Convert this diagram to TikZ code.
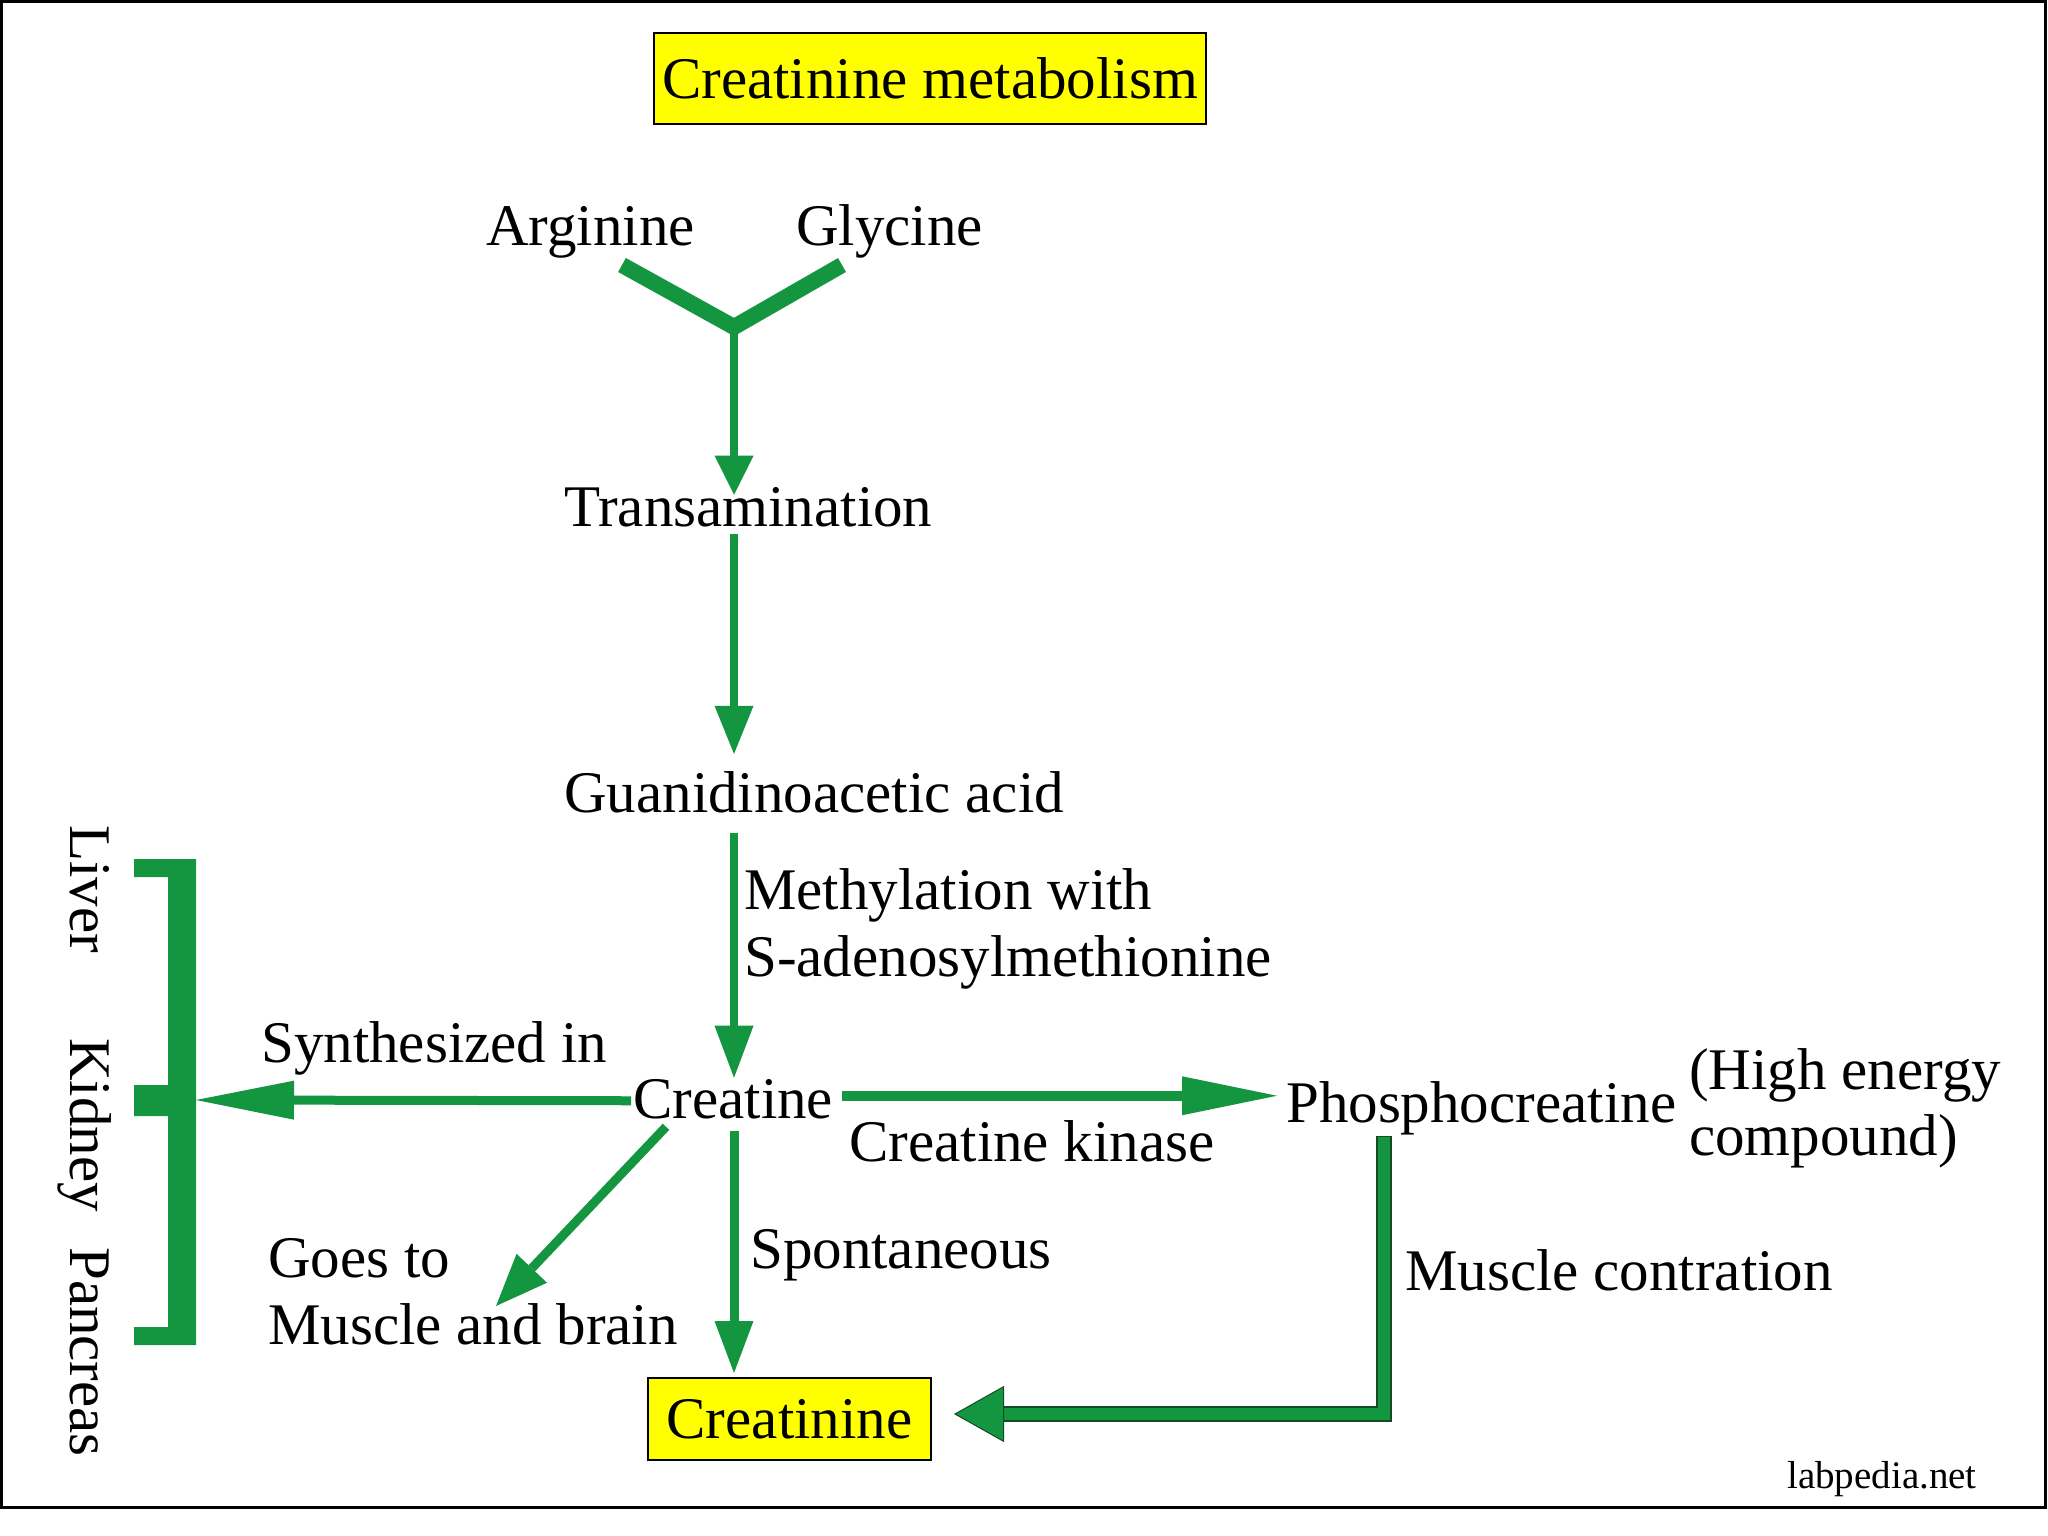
\documentclass[tikz,border=0pt]{standalone}
\usepackage{fontspec}
\setmainfont{Liberation Serif}
\usetikzlibrary{arrows.meta,calc}
\definecolor{gr}{RGB}{20,150,65}
\definecolor{dgr}{RGB}{20,75,35}
\definecolor{yel}{RGB}{255,255,0}
\begin{document}
\begin{tikzpicture}[x=1pt,y=-1pt,
  txt/.style={inner sep=0pt, anchor=base west, font=\fontsize{59pt}{67pt}\selectfont},
  boxnode/.style={draw=black, line width=2pt, fill=yel, inner sep=0pt, font=\fontsize{59pt}{67pt}\selectfont},
  flow/.style={draw=gr, line width=#1},
  tipA/.style={-{Triangle[length=#1,width=39pt,line width=0pt]}}
]
\useasboundingbox (0,0) rectangle (2048,1536);
\fill[white] (0,0) rectangle (2048,1536);
\draw[line width=3pt] (1.5,1.5) rectangle (2045,1507);

% nodes
\node[boxnode, minimum width=552pt, minimum height=91pt] (title) at (930,78.5) {Creatinine metabolism};
\node[txt] (arg) at (486,245) {Arginine};
\node[txt] (gly) at (796,245) {Glycine};
\node[txt] (trans) at (564,526) {Transamination};
\node[txt] (gaa) at (564,812) {Guanidinoacetic acid};
\node[txt] (meth1) at (744,909) {Methylation with};
\node[txt] (meth2) at (744,976) {S-adenosylmethionine};
\node[txt] (syn) at (261,1062) {Synthesized in};
\node[txt] (crt) at (633,1118) {Creatine};
\node[txt] (phc) at (1286,1122) {Phosphocreatine};
\node[txt] (high1) at (1689,1089) {(High energy};
\node[txt] (high2) at (1689,1155) {compound)};
\node[txt] (ck) at (849,1161) {Creatine kinase};
\node[txt] (goes1) at (268,1277) {Goes to};
\node[txt] (goes2) at (268,1344) {Muscle and brain};
\node[txt] (spon) at (750,1268) {Spontaneous};
\node[txt] (mc) at (1405,1290) {Muscle contration};
\node[boxnode, minimum width=283pt, minimum height=82pt] (crn) at (789.5,1419) {Creatinine};
\node[txt, rotate=-90] (liver) at (70,825) {Liver};
\node[txt, rotate=-90] (kidney) at (70,1038) {Kidney};
\node[txt, rotate=-90] (pancreas) at (70,1247) {Pancreas};
\node[inner sep=0pt, anchor=base west, font=\fontsize{39pt}{41pt}\selectfont] (lab) at (1787,1488) {labpedia.net};

% bracket
\fill[gr] (134,859) -- (196,859) -- (196,1345) -- (134,1345) -- (134,1327) -- (168,1327)
  -- (168,1116) -- (134,1116) -- (134,1085) -- (168,1085) -- (168,877) -- (134,877) -- cycle;
\coordinate (brk) at (196,1100);

% Y junction
\coordinate (ya) at (622,265);
\coordinate (yb) at (842,265);
\coordinate (yj) at (734,327);
\draw[flow=16pt, line join=miter] (ya) -- (yj) -- (yb);
\draw[flow=8pt, tipA=39pt] (yj) -- ($(trans.north -| yj)+(0,8)$);

% main column
\draw[flow=8pt, tipA=48pt] ($(trans.south -| yj)+(0,7)$) -- ($(gaa.north -| yj)+(0,-17)$);
\draw[flow=8pt, tipA=52pt] ($(gaa.south -| yj)+(0,20)$) -- ($(crt.north -| yj)+(0,-1)$);
\draw[flow=9pt, tipA=52pt] ($(crt.south -| yj)+(0,12)$) -- ($(crn.north -| yj)+(0,-4)$);

% left and right
\draw[flow=9pt, tipA=98pt] ($(crt.west)+(-2,2)$) -- (brk);
\draw[flow=10pt, tipA=95pt] ($(crt.east)+(9,-3)$) -- ($(crt.east -| phc.west)+(-9,-3)$);

% diagonal
\coordinate (mb) at (496,1306);
\draw[flow=9pt, -{Triangle[length=52pt,width=42pt,line width=0pt]}] ($(crt.south west)+(33,8)$) -- (mb);

% muscle contraction path
\coordinate (mcs) at ($(phc.south west)+(98,1)$);
\draw[dgr, line width=16pt, line join=miter] (mcs) |- ($(crn.east)+(72,-5)$);
\draw[flow=12pt, line join=miter, -{Triangle[length=50pt,width=56pt,line width=1pt,fill=gr,color=dgr]}] ($(mcs)+(0,1)$) |- ($(crn.east)+(22,-5)$);
\end{tikzpicture}
\end{document}
